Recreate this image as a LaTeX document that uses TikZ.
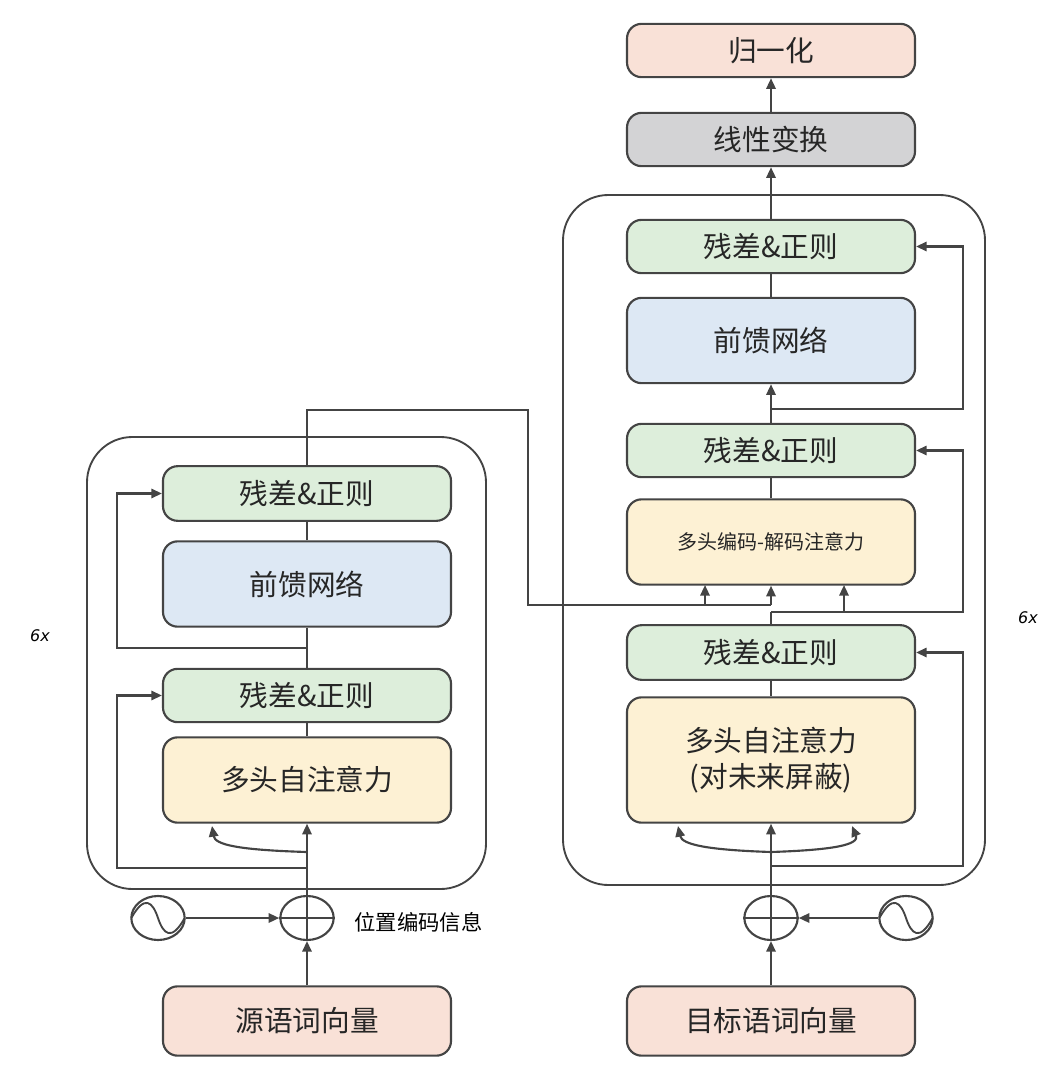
\documentclass[tikz,border=0pt]{standalone}
\usepackage{fontspec}
\setmainfont{Noto Sans CJK SC}
\newfontfamily\latfont{DejaVu Sans}
\usetikzlibrary{arrows.meta,shapes.geometric}
\definecolor{ln}{HTML}{444444}
\definecolor{cpink}{HTML}{F9E1D7}
\definecolor{cgray}{HTML}{D3D3D5}
\definecolor{cgreen}{HTML}{DDEEDB}
\definecolor{cblue}{HTML}{DDE8F4}
\definecolor{cyellow}{HTML}{FDF1D4}
\begin{document}
\begin{tikzpicture}[x=0.75pt,y=-0.75pt,line width=1.6pt,draw=ln,
  box/.style={draw=ln,rounded corners=11pt,minimum width=216pt,inner sep=0pt,font=\fontsize{21.5}{27}\selectfont,text=black!85},
  arr/.style={-{Triangle[length=8pt,width=7pt]}},
  ring/.style={draw=ln,ellipse,minimum width=40pt,minimum height=33pt,inner sep=0pt},
  outer/.style={draw=ln,rounded corners=34pt,line width=1.4pt}]
\useasboundingbox (0,0) rectangle (1052,1074);
% outer frames
\draw[outer] (87,437) rectangle (486,889);
\draw[outer] (563,195) rectangle (985,885);
% encoder boxes
\node[box,fill=cgreen,minimum height=41pt] (er2) at (307,493.5) {残差\&正则};
\node[box,fill=cblue,minimum height=64pt] (ef) at (307,584) {前馈网络};
\node[box,fill=cgreen,minimum height=40pt] (er1) at (307,695.5) {残差\&正则};
\node[box,fill=cyellow,minimum height=64pt] (ea) at (307,780) {多头自注意力};
\node[box,fill=cpink,minimum height=52pt] (src) at (307,1021) {源语词向量};
\node[ring] (ep) at (307,918) {};
\node[ring] (es) at (158,918) {};
\node[anchor=west,font=\fontsize{16}{19}\selectfont] (lab) at (349,922) {位置编码信息};
% decoder boxes
\node[box,fill=cpink,minimum height=40pt] (nm) at (771,50.5) {归一化};
\node[box,fill=cgray,minimum height=40pt] (lin) at (771,139.5) {线性变换};
\node[box,fill=cgreen,minimum height=40pt] (dr3) at (771,246.5) {残差\&正则};
\node[box,fill=cblue,minimum height=64pt] (df) at (771,340.5) {前馈网络};
\node[box,fill=cgreen,minimum height=40pt] (dr2) at (771,450.5) {残差\&正则};
\node[box,fill=cyellow,minimum height=64pt,font=\fontsize{15}{18}\selectfont] (dc) at (771,542) {多头编码-解码注意力};
\node[box,fill=cgreen,minimum height=41pt] (dr1) at (771,652.5) {残差\&正则};
\node[box,fill=cyellow,minimum height=94pt,align=center] (da) at (771,760) {多头自注意力\\(对未来屏蔽)};
\node[box,fill=cpink,minimum height=52pt] (tgt) at (771,1021) {目标语词向量};
\node[ring] (dp) at (771,918) {};
\node[ring] (ds) at (906,918) {};
% ring contents
\foreach \p in {ep,dp}{
  \draw[line width=1.4pt] (\p.west) -- (\p.east);
  \draw[line width=1.4pt] (\p.north) -- (\p.south);}
\foreach \s in {es,ds}{
  \draw[line width=1.4pt] ([xshift=-20pt]\s.center) .. controls ([xshift=-10pt,yshift=18pt]\s.center) and ([xshift=-4pt,yshift=12pt]\s.center) .. (\s.center) .. controls ([xshift=4pt,yshift=-12pt]\s.center) and ([xshift=10pt,yshift=-18pt]\s.center) .. ([xshift=20pt]\s.center);}
\node[font=\latfont\itshape\fontsize{12}{14}\selectfont] (n6a) at (40,636) {6x};
\node[font=\latfont\itshape\fontsize{12}{14}\selectfont] (n6b) at (1028,618) {6x};
% ----- encoder connectors
\draw[arr] (src.north) -- (ep.south);
\draw[arr] (es.east) -- (ep.west);
\draw[arr] (ep.north) -- (ea.south);
\coordinate (ec1) at (307,852);
\draw[arr] (ec1) .. controls (240,850) and (215,845) .. (212,826);
\coordinate (eb1) at (307,868);
\draw[arr] (eb1) -- (117,868) |- (er1.west);
\draw (ea.north) -- (er1.south);
\draw (er1.north) -- (ef.south);
\coordinate (eb2) at (307,648);
\draw[arr] (eb2) -- (117,648) |- (er2.west);
\draw (ef.north) -- (er2.south);
\coordinate (eo1) at (307,410);
\coordinate (eo2) at (528,605);
\draw (er2.north) -- (eo1) -| (eo2) -- (771,605);
\draw[arr] (705,605) -- (705,585);
\draw[arr] (771,605) -- (dc.south);
% ----- decoder connectors
\draw[arr] (tgt.north) -- (dp.south);
\draw[arr] (ds.west) -- (dp.east);
\draw[arr] (dp.north) -- (da.south);
\coordinate (dc1) at (771,852);
\draw[arr] (dc1) .. controls (710,850) and (682,845) .. (678,826);
\draw[arr] (dc1) .. controls (832,850) and (860,845) .. (852,826);
\coordinate (db1) at (771,866);
\draw[arr] (db1) -- (963,866) |- (dr1.east);
\draw (da.north) -- (dr1.south);
\coordinate (db2) at (771,612);
\draw (dr1.north) -- (db2);
\draw[arr] (db2) -- (963,612) |- (dr2.east);
\draw[arr] (844,612) -- (844,585);
\draw (dc.north) -- (dr2.south);
\draw[arr] (dr2.north) -- (df.south);
\coordinate (db3) at (771,409);
\draw[arr] (db3) -- (963,409) |- (dr3.east);
\draw (df.north) -- (dr3.south);
\draw[arr] (dr3.north) -- (lin.south);
\draw[arr] (lin.north) -- (nm.south);
\end{tikzpicture}
\end{document}
